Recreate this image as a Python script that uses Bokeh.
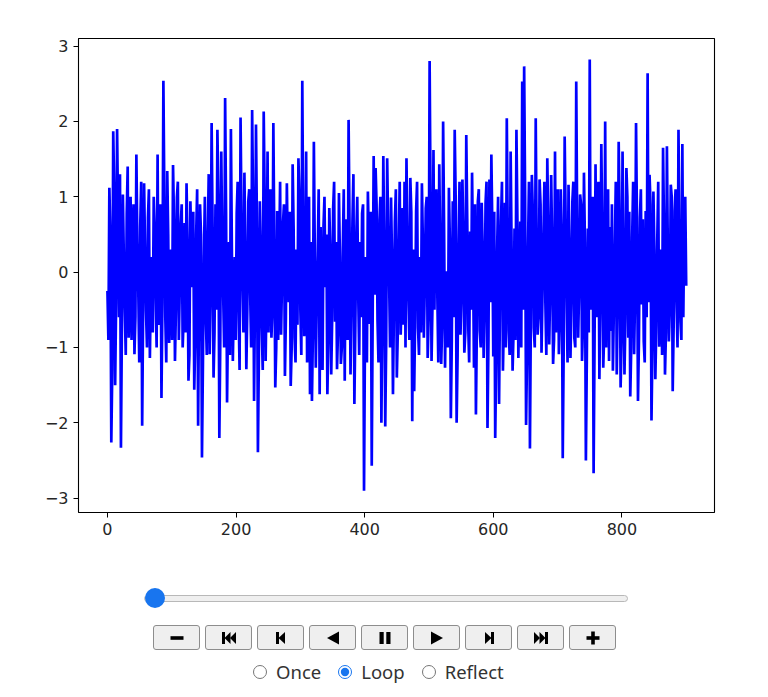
from bokeh.plotting import figure
from bokeh.models import Range1d, FixedTicker, Div, ColumnDataSource
from bokeh.layouts import column
from bokeh.embed import file_html
from bokeh.resources import INLINE

# ---- data ----
# main samples: frames 0, 3, 6, ... 900
values = [
    -0.25, 1.12, -2.26, 1.87, -1.5, 1.9, -0.6, -2.33, 1.03, -0.5,
    0.77, -0.87, 1.0, 0.36, -1.09, 1.56, -0.25, 0.6, -2.04, 1.18,
    -0.52, 0.72, -1.14, 0.2, 1.0, -0.3, 1.56, 0.1, -1.67, 2.54,
    -0.6, 1.34, -0.94, 0.3, 1.42, -1.18, 0.99, -0.9, 0.63, -1.0,
    0.65, 1.18, -1.44, 0.94, -0.2, -1.56, 0.5, -2.04, 0.9, -2.46,
    0.19, -0.6, 0.46, -1.09, 1.98, -1.4, 0.9, 1.89, -2.2, 1.6,
    -0.3, 2.31, -1.73, 0.4, 1.9, -1.18, 0.2, 0.78, -0.5, 2.05,
    -0.16, 1.32, -1.29, 0.94, -0.3, 2.15, -1.71, 1.96, -2.39, 0.94,
    -0.74, 2.13, -1.18, 1.6, 0.2, -0.87, 1.98, -1.53, 0.81, 0.1,
    -0.83, 0.65, -1.38, 1.18, -0.4, -1.51, 1.43, -0.87, 0.3, 1.51,
    -0.5, 2.54, -0.85, 1.6, 0.2, -1.62, -1.71, 1.73, -1.27, 0.23,
    -1.62, -0.57, 0.61, -0.2, -1.62, 0.85, -1.36, 0.85, -0.66, -1.29,
    1.05, -1.22, 0.3, -1.44, -0.1, 2.02, -1.36, 0.67, -1.75, 0.5,
    -0.3, 0.4, 0.78, -2.9, 0.2, 1.07, -0.69, -2.57, 1.54, 1.38,
    -0.65, 0.69, -2.0, 1.54, -2.05, 1.51, -0.08, 0.99, -1.62, 0.67,
    -1.4, 0.36, -0.83, 0.85, 1.2, 1.51, -0.34, 1.25, -1.98, -1.58,
    0.81, -0.74, 0.2, 1.18, -0.87, 0.85, -1.14, 2.8, -1.18, 1.62,
    0.9, -0.3, 1.43, -1.22, 2.0, -1.27, 0.01, 1.12, -1.94, 0.94,
    1.89, -2.0, 0.36, -0.83, 1.23, -1.07, 1.82, -0.69, 0.54, 1.32,
    -1.27, -1.89, 0.94, -0.78, 0.92, -1.14, 0.92, -2.07, 1.23, 1.56,
    -1.12, -2.2, 0.3, -1.75, 0.67, -1.31, 0.92, 2.04, -0.78, 1.6,
    -1.31, 0.58, 1.89, -1.14, 0.67, 2.53, 2.73, -2.03, 0.32, -2.34,
    1.29, -0.74, 2.04, -0.83, 1.23, -1.07, 0.5, -0.4, 1.51, -0.96,
    1.29, -1.22, 1.6, 0.2, -1.09, 1.1, -2.47, 1.8, -0.3, 1.16,
    -1.14, 0.94, -0.87, 2.53, -0.87, 1.03, -1.18, 1.32, -2.5, 0.58,
    2.82, 0.3, -2.67, 1.43, 0.81, -1.42, 1.7, -1.27, 2.0, 0.58,
    -1.18, -0.78, -1.31, 0.32, -1.36, 1.73, -1.53, 1.6, -1.36, 1.38,
    -0.87, -1.65, 0.46, -1.09, 1.98, -1.71, 0.72, -0.43, -0.92, 0.81,
    2.64, 1.29, -1.97, 1.07, -1.42, 0.41, -0.99, 0.3, 1.65, -1.36,
    1.67, -0.92, 1.16, -1.58, 0.81, -0.39, 1.89, -0.65, 1.7, 0.65, -0.18,
]
# in-between samples: frames 1.5, 4.5, 7.5, ... 898.5
values_between = [
    -0.9, 0.5, -1.3, 1.1, -0.4, 0.8, 1.3, -0.7, 0.2, -1.1,
    1.4, -0.3, -0.9, 0.9, -0.6, 0.4, -1.2, 1.2, -0.5, 0.3,
    -1.0, 1.1, -0.2, -0.8, 0.6, -1.0, -0.7, 0.9, -0.4, 1.0,
    -1.2, 0.5, -0.1, -0.9, 0.7, -0.5, 1.2, -0.2, 0.9, -0.6,
    -0.8, 0.4, -1.1, 0.3, 0.8, -0.9, 1.1, -0.3, 0.5, -1.2,
    1.0, -1.1, 1.3, -0.2, 0.6, -0.8, -0.5, 1.0, -0.9, 0.4,
    -1.0, 0.8, -0.6, -1.1, 0.3, -0.4, -0.9, 1.2, -1.3, 0.7,
    -0.8, 0.2, -0.5, 1.1, -1.0, 0.9, -0.3, 0.6, -1.1, 0.3,
    -1.3, 1.0, -0.2, -0.8, 1.1, -0.5, 0.4, -1.0, -0.9, 1.2,
    -0.1, 0.9, -0.6, 0.2, 0.8, -1.0, 0.6, -1.2, -0.7, 1.0,
    -1.1, 0.5, -0.3, -1.2, 1.0, 0.4, -0.8, 0.2, -0.4, 1.1,
    0.6, -1.3, 1.0, 0.5, -0.9, 0.3, -0.6, 1.2, 0.4, -0.8,
    0.2, -1.0, 1.1, 0.7, -0.9, 0.6, -0.4, 1.3, -0.7, 1.0,
    -1.1, -0.6, 0.9, -0.8, -1.2, 0.4, 0.8, -0.5, -0.3, 0.9,
    -1.2, 1.0, -0.6, 0.3, -0.9, 0.6, -1.0, 0.2, -0.5, 1.1,
    -0.8, 1.2, -0.3, -0.7, -1.0, 0.5, -0.9, 0.8, 0.3, -0.6,
    1.2, -1.1, -0.8, 0.4, -0.2, 1.0, -0.6, 0.9, -0.4, -0.5,
    1.1, -1.2, 0.3, -0.7, 0.6, -0.2, -1.0, 0.4, -0.9, -0.6,
    1.0, -1.1, 1.2, -0.3, 0.5, -0.8, 0.7, -1.2, -0.5, 0.2,
    0.9, -0.7, 1.1, -1.0, 0.3, -0.5, 1.2, -0.9, -0.4, 0.6,
    0.8, -1.2, 1.0, -0.3, 1.2, -0.6, -1.0, 0.5, -1.1, 0.3,
    -0.8, -0.9, 0.7, -0.2, -1.0, -0.5, 1.0, -1.1, 1.2, -0.5,
    0.8, -1.0, 0.3, -0.6, 0.9, -0.3, 1.2, -1.1, 0.6, -0.2,
    0.4, -0.9, -0.8, 1.1, -0.6, 0.5, -1.0, 0.7, -1.2, 0.3,
    -0.4, 1.2, -1.0, 0.6, -0.2, 0.9, -0.7, 0.4, -1.1, -0.8,
    -0.5, 1.0, -0.9, -0.6, 1.2, -0.3, 0.5, -0.8, -1.0, 1.1,
    0.6, 0.9, -0.5, 1.2, -0.4, 0.7, -0.9, 0.3, -0.6, 1.0,
    0.8, -1.0, 1.2, -0.3, 0.6, -0.9, 1.1, 0.7, -1.2, -0.6,
    -0.4, 0.9, -1.0, 0.3, -0.7, 1.2, -0.4, -1.1, 0.6, -0.8,
    0.2, -0.5, 1.0, -0.7, 1.1, -1.0, 0.4, -0.9, -0.6, 1.0,
]
frames = [i * 1.5 for i in range(2 * len(values) - 1)]
series = []
for a, b in zip(values[:-1], values_between):
    series += [a, b]
series.append(values[-1])

x_ticks = [0, 200, 400, 600, 800]
y_ticks = [-3, -2, -1, 0, 1, 2, 3]
y_tick_labels = ["\u22123", "\u22122", "\u22121", "0", "1", "2", "3"]
mode_labels = ["Once", "Loop", "Reflect"]
checked_mode = "Loop"

src = ColumnDataSource(data=dict(x=frames, y=series))

p = figure(width=760, height=568, output_backend="svg", toolbar_location=None,
           x_range=Range1d(-45, 944), y_range=Range1d(-3.19, 3.10),
           min_border_left=78, min_border_right=46, min_border_top=38,
           min_border_bottom=56)
p.line("x", "y", source=src, line_color="#0000ff", line_width=2.7)

p.grid.visible = False
p.outline_line_color = "#000000"
p.outline_line_width = 1.1
p.background_fill_color = "white"
p.border_fill_color = "white"

for ax in (p.xaxis[0], p.yaxis[0]):
    ax.axis_line_color = None
    ax.major_tick_line_color = "#000000"
    ax.major_tick_out = 5
    ax.major_tick_in = 0
    ax.minor_tick_line_color = None
    ax.major_label_text_font = "DejaVu Sans"
    ax.major_label_text_font_size = "16px"
    ax.major_label_text_color = "#262626"
    ax.major_label_standoff = 5

p.xaxis.ticker = FixedTicker(ticks=x_ticks)
p.yaxis.ticker = FixedTicker(ticks=y_ticks)
p.yaxis.major_label_overrides = {t: l for t, l in zip(y_ticks, y_tick_labels)}

# ---- animation controls (HTML) ----
def svg(inner, w=16, h=16):
    return ('<svg width="%d" height="%d" viewBox="0 0 16 16" fill="#000">%s</svg>'
            % (w, h, inner))

icons = [
    svg('<rect x="1.5" y="6.2" width="13" height="3.6"/>'),
    svg('<rect x="1" y="2" width="3" height="12"/><polygon points="3.5,8 9.5,2 9.5,14"/>'
        '<polygon points="9,8 15,2 15,14"/>'),
    svg('<rect x="3" y="2" width="3" height="12"/><polygon points="5.5,8 12,2 12,14"/>'),
    svg('<polygon points="2,8 14,1.5 14,14.5"/>'),
    svg('<rect x="2.5" y="2" width="4.2" height="12"/><rect x="9.3" y="2" width="4.2" height="12"/>'),
    svg('<polygon points="14,8 2,1.5 2,14.5"/>'),
    svg('<rect x="10" y="2" width="3" height="12"/><polygon points="10.5,8 4,2 4,14"/>'),
    svg('<rect x="12" y="2" width="3" height="12"/><polygon points="12.5,8 6.5,2 6.5,14"/>'
        '<polygon points="7,8 1,2 1,14"/>'),
    svg('<rect x="1.5" y="6.2" width="13" height="3.6"/><rect x="6.2" y="1.5" width="3.6" height="13"/>'),
]

buttons_html = "".join('<button>%s</button>' % ic for ic in icons)
radios_html = "".join(
    '<label><input type="radio" name="state"%s>%s</label>'
    % (" checked" if m == checked_mode else "", m) for m in mode_labels)

css = """
<style>
.ctrl {width:760px; font-family:'Noto Sans', 'Liberation Sans', sans-serif;}
.sl {-webkit-appearance:none; appearance:none; display:block; width:484px; height:20px;
     background:transparent; margin:20px 0 0 144px; padding:0;}
.sl::-webkit-slider-runnable-track {height:7px; background:#efefef; border:1px solid #b8b8b8;
     border-radius:5px;}
.sl::-webkit-slider-thumb {-webkit-appearance:none; appearance:none; width:20px; height:20px;
     border-radius:50%; background:#1875ef; border:none; margin-top:-7.5px;}
.btns {display:flex; gap:5px; margin:17px 0 0 153px;}
.btns button {width:47px; height:25px; padding:0; margin:0; background:#efefef;
     border:1px solid #8d8d8d; border-radius:3px; display:flex; align-items:center;
     justify-content:center;}
.radios {display:flex; align-items:center; margin:10px 0 0 253px; font-size:18.5px;
     color:#333; line-height:24px;}
.radios label {display:flex; align-items:center; margin-right:17px;}
.radios input {width:14px; height:14px; margin:0 9px 0 0; accent-color:#1875ef;}
</style>
"""

html = (css + '<div class="ctrl"><input class="sl" type="range" min="0" max="899" value="0">'
        + '<div class="btns">' + buttons_html + '</div>'
        + '<div class="radios">' + radios_html + '</div></div>')

controls = Div(text=html, width=760, height=120, margin=0)

layout = column(p, controls, spacing=0)

open("out.html", "w").write(file_html(layout, INLINE))
